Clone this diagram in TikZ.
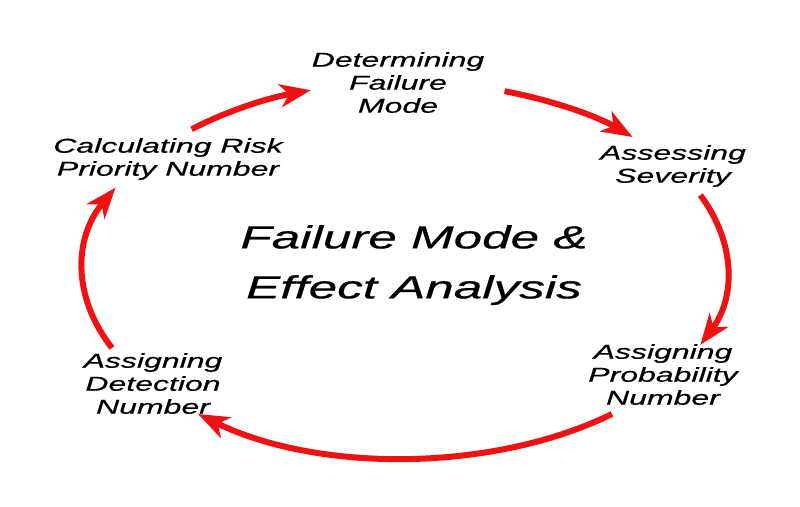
\documentclass[tikz,border=0pt]{standalone}
\usepackage{fontspec}
\setmainfont{Liberation Sans}[FakeStretch=1.6, FakeBold=0.6]
\usetikzlibrary{arrows.meta}
\definecolor{loopred}{RGB}{238,18,18}
\begin{document}
\begin{tikzpicture}[x=1pt, y=1pt,
  step label/.style={font=\itshape\fontsize{20}{23}\selectfont, align=center, inner sep=0pt, anchor=north},
  title label/.style={font=\itshape\fontsize{32}{50}\selectfont, align=center, inner sep=0pt, anchor=north},
  loop arrow/.style={loopred, line width=6pt, -{Stealth[length=31pt, width=23pt, inset=9pt]}}]
\useasboundingbox (0,0) rectangle (800,506);
\node[title label] (fmea) at (414,281) {Failure Mode \&\\Effect Analysis};
\node[step label] (mode) at (398,454) {Determining\\Failure\\Mode};
\node[step label] (severity) at (673,361) {Assessing\\Severity};
\node[step label] (probability) at (663,162) {Assigning\\Probability\\Number};
\node[step label] (detection) at (153,153) {Assigning\\Detection\\Number};
\node[step label] (rpn) at (168,368) {Calculating Risk\\Priority Number};
% red ring of arrows
\coordinate (ring) at (405,236);
\foreach \from/\to in {131.5/107, 72/45, 23.5/-23.5, -50/-130, 204.5/154}
  \draw[loop arrow] ([shift={(\from:322 and 188)}]ring) arc[start angle=\from, end angle=\to, x radius=322, y radius=188];
\end{tikzpicture}
\end{document}
